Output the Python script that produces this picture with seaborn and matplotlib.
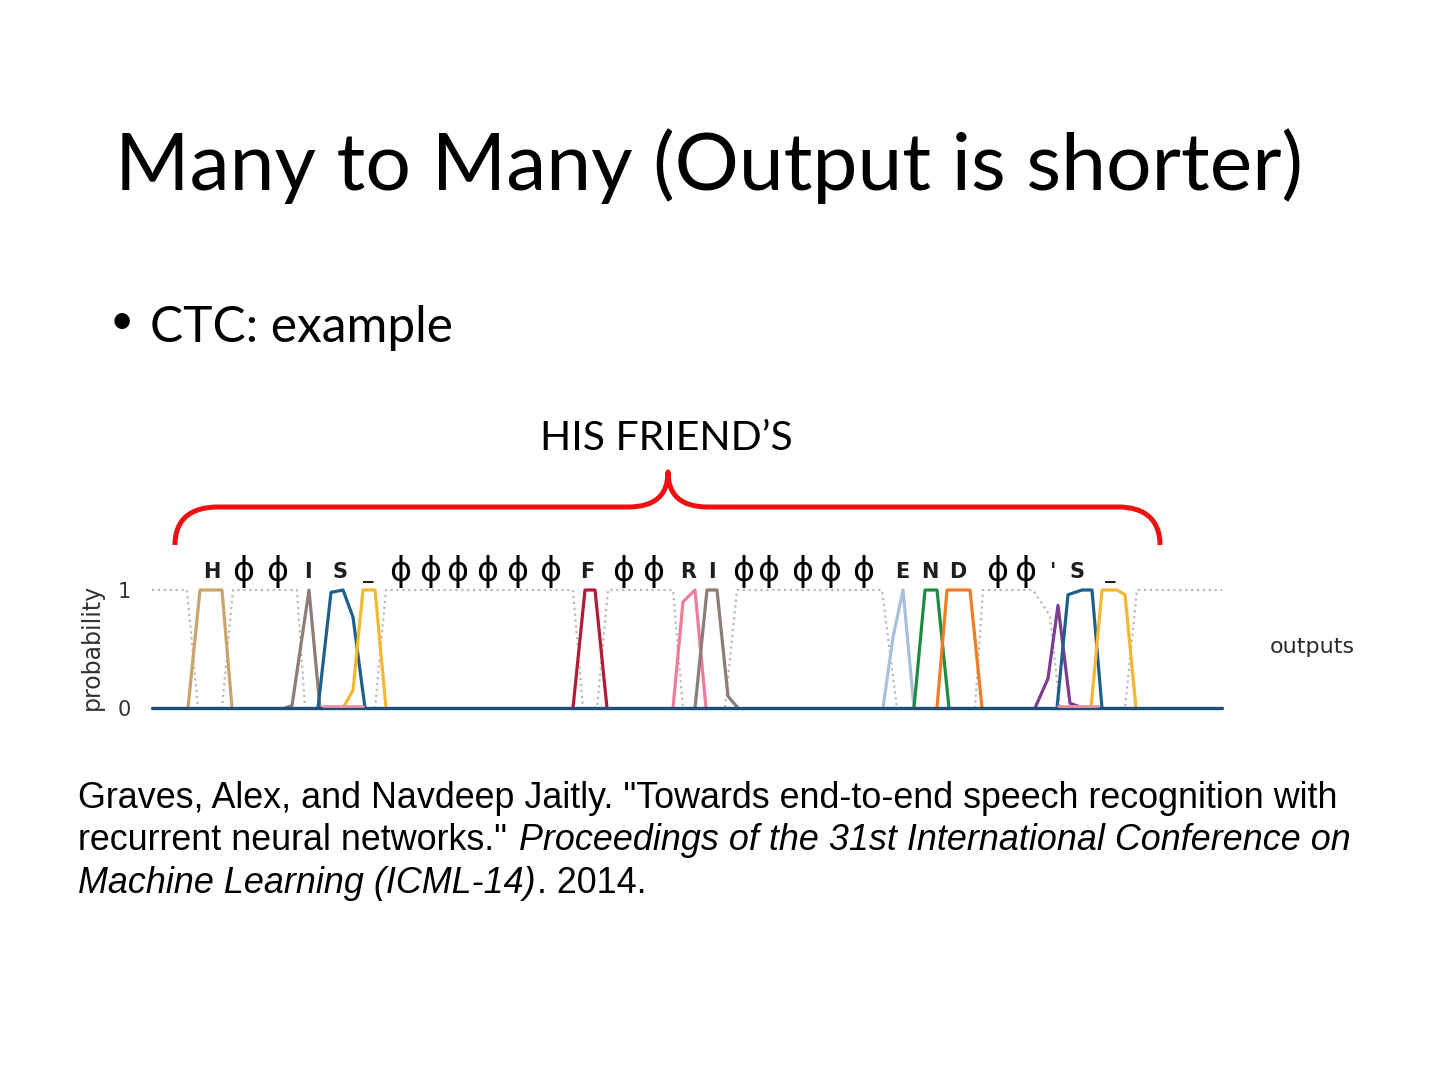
import numpy as np
import pandas as pd
import seaborn as sns
import matplotlib.pyplot as plt
from matplotlib.path import Path
from matplotlib.patches import PathPatch

# CTC output curves, time step (x) vs probability (y)
curves = {
    "H":  ([188, 200, 222, 232], [0, 1, 1, 0]),
    "I":  ([285, 292, 309, 320], [0, 0.02, 1, 0]),
    "S":  ([318, 331, 343, 353, 365], [0, 0.98, 1, 0.77, 0]),
    "_":  ([343, 353, 363, 375, 386], [0, 0.15, 1, 1, 0]),
    "F":  ([573, 585, 595, 607], [0, 1, 1, 0]),
    "R":  ([673, 683, 695, 706], [0, 0.9, 1, 0]),
    "I2": ([695, 707, 717, 728, 738], [0, 1, 1, 0.1, 0]),
    "E":  ([883, 893, 903, 914], [0, 0.6, 1, 0]),
    "N":  ([914, 925, 937, 949], [0, 1, 1, 0]),
    "D":  ([937, 947, 970, 982], [0, 1, 1, 0]),
    "'":  ([1035, 1048, 1058, 1070, 1083], [0, 0.25, 0.87, 0.04, 0]),
    "S2": ([1057, 1068, 1082, 1092, 1102], [0, 0.96, 1, 1, 0]),
    "_2": ([1091, 1102, 1117, 1125, 1136], [0, 1, 1, 0.96, 0]),
}
colors = {
    "H": "#c9a46a", "I": "#8b7d78", "S": "#1f5f8b", "_": "#f4b731",
    "F": "#b31b34", "R": "#ee7d9b", "I2": "#8b7d78", "E": "#a9c0da",
    "N": "#1e8c3e", "D": "#f27c21", "'": "#7e3d8e", "S2": "#1f5f8b",
    "_2": "#f4b731",
}

blank_t = [152, 187, 198, 222, 233, 297, 305, 375, 386, 573, 583, 597, 608,
           673, 683, 725, 737, 882, 897, 975, 983, 1033, 1050, 1060, 1125,
           1137, 1222]
blank_p = [1, 1, 0, 0, 1, 1, 0, 0, 1, 1, 0, 0, 1, 1, 0, 0, 1, 1, 0, 0, 1, 1,
           0.78, 0, 0, 1, 1]

base_t = [152, 1222]
base_p = [0, 0]

pink_t = [[323, 363], [1058, 1098]]
pink_p = [[0.015, 0.015], [0.015, 0.015]]

label_x = [212, 243, 277, 308, 340, 368, 400, 430, 457, 487, 517, 550, 587,
           623, 653, 688, 712, 743, 768, 802, 830, 863, 902, 930, 958, 997,
           1025, 1053, 1077, 1110]
label_s = ["H", "ϕ", "ϕ", "I", "S", "_", "ϕ", "ϕ", "ϕ", "ϕ", "ϕ", "ϕ", "F",
           "ϕ", "ϕ", "R", "I", "ϕ", "ϕ", "ϕ", "ϕ", "ϕ", "E", "N", "D", "ϕ",
           "ϕ", "'", "S", "_"]

rows = []
for k, (t, p) in curves.items():
    for a, b in zip(t, p):
        rows.append((k, a, b))
df = pd.DataFrame(rows, columns=["label", "t", "prob"])

sns.set_style("white")
plt.rcParams["font.family"] = ["DejaVu Sans"]
plt.rcParams["text.color"] = "black"

W, H = 1440, 1080
fig = plt.figure(figsize=(14.4, 10.8), dpi=100)
fig.patch.set_facecolor("white")


def fx(px):
    return px / W


def fy(py):
    return 1 - py / H


# chart axes: x in time steps, prob 0 at y=708px, 1 at 590px
ylo, yhi = -0.12, 1.15
bot_px = 708 - ylo * 118
top_px = 590 - (yhi - 1) * 118
ax = fig.add_axes([fx(150), fy(bot_px), fx(1225) - fx(150),
                   (bot_px - top_px) / H])
ax.set_xlim(150, 1225)
ax.set_ylim(ylo, yhi)

sns.lineplot(x=blank_t, y=blank_p, color="#b9b9b9", linestyle=":",
             linewidth=1.6, estimator=None, sort=False, ax=ax)
sns.lineplot(data=df, x="t", y="prob", hue="label", palette=colors,
             estimator=None, sort=False, linewidth=2.3, legend=False, ax=ax)
sns.lineplot(x=base_t, y=base_p, color="#1f4e79", linewidth=2.4,
             estimator=None, sort=False, ax=ax)
for t, p in zip(pink_t, pink_p):
    sns.lineplot(x=t, y=p, color="#f08fa0", linewidth=2.0,
                 estimator=None, sort=False, ax=ax)

for x, s in zip(label_x, label_s):
    if s == "ϕ":
        ax.text(x, 1.08, s, ha="center", va="baseline", fontsize=24,
                color="black", clip_on=False)
    else:
        ax.text(x, 1.10, s, ha="center", va="baseline", fontsize=15,
                fontweight="bold", color="#1e1e1e", clip_on=False)

for sp in ax.spines.values():
    sp.set_visible(False)
ax.set_xticks([])
ax.set_yticks([0, 1])
ax.set_yticklabels(["0", "1"], fontsize=15, color="#333333")
ax.tick_params(axis="y", length=0, pad=14)
ax.set_xlabel("")
ax.set_ylabel("probability", fontsize=17, color="#333333", labelpad=10)

fig.text(fx(1312), fy(647), "outputs", ha="center", va="center",
         fontsize=16, color="#2a2a2a")

# slide text
sl = ["Lato", "DejaVu Sans"]
fig.text(fx(115), fy(190), "Many to Many (Output is shorter)", ha="left",
         va="baseline", fontsize=57.9, family=sl, color="black")
fig.text(fx(122), fy(322), "•", ha="center", va="center", fontsize=30,
         family=sl, color="black")
fig.text(fx(150), fy(342), "CTC: example", ha="left", va="baseline",
         fontsize=35.7, family=sl, color="black")
fig.text(fx(666), fy(450), "HIS FRIEND’S", ha="center", va="baseline",
         fontsize=29.4, family=sl, color="black")

cit = ["Liberation Sans", "DejaVu Sans"]
cs = 25.8
fig.text(fx(78), fy(808),
         'Graves, Alex, and Navdeep Jaitly. "Towards end-to-end speech recognition with',
         ha="left", va="baseline", fontsize=cs, family=cit, color="black")
fig.text(fx(78), fy(850), 'recurrent neural networks."', ha="left",
         va="baseline", fontsize=cs, family=cit, color="black")
fig.text(fx(519), fy(850),
         "Proceedings of the 31st International Conference on", ha="left",
         va="baseline", fontsize=cs, family=cit, style="italic", color="black")
fig.text(fx(78), fy(893), "Machine Learning (ICML-14)", ha="left",
         va="baseline", fontsize=cs, family=cit, style="italic", color="black")
fig.text(fx(537), fy(893), ". 2014.", ha="left", va="baseline",
         fontsize=cs, family=cit, color="black")

# red brace over the outputs
ov = fig.add_axes([0, 0, 1, 1], zorder=-1)
ov.set_xlim(0, W)
ov.set_ylim(H, 0)
ov.axis("off")
verts = [(175, 545), (175, 520), (190, 507), (218, 507),
         (628, 507),
         (655, 507), (668, 495), (668, 472),
         (668, 495), (681, 507), (708, 507),
         (1118, 507),
         (1145, 507), (1160, 520), (1160, 545)]
codes = [Path.MOVETO, Path.CURVE4, Path.CURVE4, Path.CURVE4,
         Path.LINETO,
         Path.CURVE4, Path.CURVE4, Path.CURVE4,
         Path.CURVE4, Path.CURVE4, Path.CURVE4,
         Path.LINETO,
         Path.CURVE4, Path.CURVE4, Path.CURVE4]
ov.add_patch(PathPatch(Path(verts, codes), facecolor="none",
                       edgecolor="#ee1111", linewidth=3.6,
                       capstyle="butt", joinstyle="round"))

fig.savefig("out.png", dpi=100, facecolor="white")
